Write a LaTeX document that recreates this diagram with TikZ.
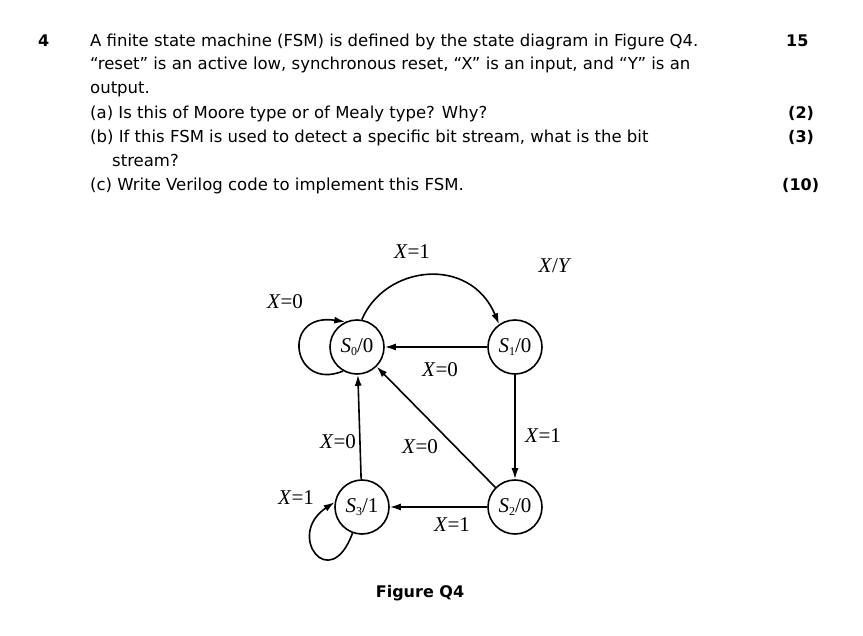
\documentclass[tikz,border=0pt]{standalone}
\usepackage{fontspec}
\setmainfont{DejaVu Sans}
\newfontfamily\tms{Liberation Serif}
\usetikzlibrary{arrows.meta}
\newcommand{\Sx}[1]{\textit{S}\raisebox{-3pt}{\fontsize{12}{12}\selectfont #1}}
\begin{document}
\begin{tikzpicture}[x=1pt,y=-1pt,
  txt/.style={anchor=base west,font=\fontsize{16.5}{19}\selectfont,inner sep=0},
  num/.style={anchor=base west,font=\bfseries\fontsize{16}{19}\selectfont,inner sep=0},
  st/.style={circle,draw,line width=1.6pt,minimum size=54pt,inner sep=0,font=\tms\fontsize{21}{22}\selectfont},
  lab/.style={font=\tms\fontsize{21}{22}\selectfont,inner sep=1pt},
  edge/.style={line width=1.6pt,-{Latex[length=11pt,width=7pt]}}]
\useasboundingbox[fill=white] (0,0) rectangle (863,636);
\node[num] (q) at (38,47) {4};
\node[num] (m) at (786,47) {15};
\node[txt] (l1) at (90,47) {A finite state machine (FSM) is defined by the state diagram in Figure Q4.};
\node[txt] (l2) at (90,70) {“reset” is an active low, synchronous reset, “X” is an input, and “Y” is an};
\node[txt] (l3) at (90,94) {output.};
\node[txt] (l4) at (90,119) {(a) Is this of Moore type or of Mealy type? Why?};
\node[num] (p2) at (788,119) {(2)};
\node[txt] (l5) at (90,143) {(b) If this FSM is used to detect a specific bit stream, what is the bit};
\node[num] (p3) at (788,143) {(3)};
\node[txt] (l6) at (112,167) {stream?};
\node[txt] (l7) at (90,191) {(c) Write Verilog code to implement this FSM.};
\node[num] (p10) at (782,191) {(10)};

\node[st] (s0) at (357,347) {\Sx{0}/0};
\node[st] (s1) at (515,347) {\Sx{1}/0};
\node[st] (s2) at (515,507) {\Sx{2}/0};
\node[st] (s3) at (362,507) {\Sx{3}/1};

\draw[edge] (s0.80) .. controls (385,265) and (470,255) .. (s1.125);
\draw[edge] (s1) -- (s0);
\draw[edge] (s1) -- (s2);
\draw[edge] (s2) -- (s3);
\draw[edge] (s3) -- (s0);
\draw[edge] (s2.135) -- (s0.-45);
\draw[edge] (s0.240) .. controls (292,392) and (280,312) .. (s0.115);
\draw[edge] (s3.250) .. controls (330,595) and (285,535) .. (s3.170);

\node[lab] (a1) at (412,252) {\textit{X}=1};
\node[lab] (a2) at (555,266) {\textit{X}/\textit{Y}};
\node[lab] (a3) at (285,302) {\textit{X}=0};
\node[lab] (a4) at (440,370) {\textit{X}=0};
\node[lab] (a5) at (338,442) {\textit{X}=0};
\node[lab] (a6) at (420,447) {\textit{X}=0};
\node[lab] (a7) at (543,436) {\textit{X}=1};
\node[lab] (a8) at (296,498) {\textit{X}=1};
\node[lab] (a9) at (452,525) {\textit{X}=1};
\node[num,anchor=center] (fig) at (420,593) {Figure Q4};
\end{tikzpicture}
\end{document}
